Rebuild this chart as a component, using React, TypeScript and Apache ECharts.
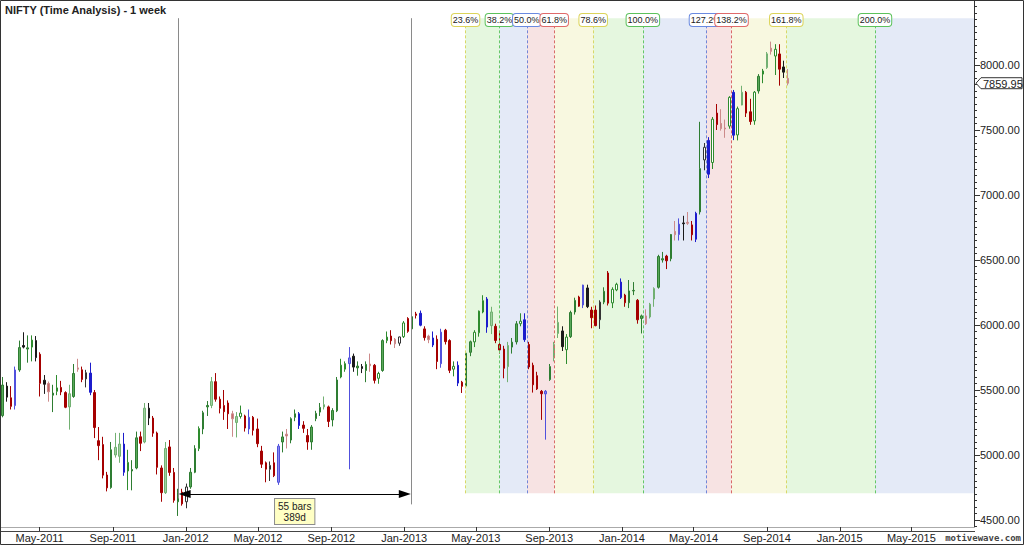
import { useEffect, useRef } from 'react';
import * as echarts from 'echarts';

const TITLE = 'NIFTY (Time Analysis) - 1 week';
const WATERMARK = 'motivewave.com';
const FIRST_BAR = '2011-02-28';
const BAR_DAYS = 7;
const DAY = 86400000;

const opens = [
  5303, 5530, 5440, 5380, 5654, 5830, 5815, 5830, 5880, 5775,
  5575, 5550, 5460, 5490, 5520, 5480, 5370, 5450, 5670, 5655,
  5585, 5630, 5480, 5110, 5080, 4846, 4750, 5000, 4990, 5084,
  4877, 4877, 4900, 5140, 5100, 5360, 5284, 5169, 4900, 4710,
  5062, 4866, 4640, 4714, 4640, 4754, 4867, 5049, 5200, 5370,
  5381, 5564, 5429, 5380, 5400, 5317, 5250, 5296, 5300, 5200,
  5290, 5200, 5030, 4940, 4890, 4940, 4790, 5100, 5160, 5115,
  5290, 5317, 5230, 5150, 5100, 5280, 5330, 5370, 5370, 5270,
  5340, 5600, 5660, 5703, 5760, 5670, 5680, 5650, 5700, 5690,
  5590, 5650, 5880, 5915, 5890, 5860, 5910, 6050, 5970, 6085,
  6090, 5970, 5915, 5900, 5890, 5702, 5960, 5880, 5660, 5690,
  5560, 5530, 5790, 5870, 5940, 6100, 6200, 5995, 5990, 5850,
  5815, 5680, 5830, 5870, 6010, 6040, 5850, 5690, 5610, 5490,
  5470, 5580, 5750, 5935, 5954, 5810, 5910, 6100, 6215, 6154,
  6285, 6115, 6115, 6040, 6176, 6400, 6170, 6270, 6330, 6230,
  6171, 6262, 6190, 6050, 6070, 6062, 6200, 6290, 6500, 6530,
  6510, 6720, 6696, 6785, 6790, 6770, 6660, 6870, 7270, 7420,
  7250, 7630, 7550, 7515, 7530, 7790, 7462, 7692, 7790, 7640,
  7570, 7800, 7930, 7980, 8130, 8069, 8085, 7985, 7897,
];
const highs = [
  5600, 5560, 5530, 5680, 5880, 5944, 5920, 5920, 5915, 5790,
  5615, 5565, 5540, 5615, 5570, 5490, 5540, 5700, 5740, 5680,
  5655, 5710, 5500, 5215, 5140, 4870, 5100, 5170, 5170, 5170,
  5040, 4960, 5180, 5180, 5400, 5400, 5300, 5180, 4920, 5100,
  5115, 4900, 4740, 4740, 4780, 4900, 5075, 5220, 5340, 5415,
  5600, 5630, 5450, 5500, 5420, 5340, 5330, 5380, 5310, 5350,
  5300, 5280, 5070, 4950, 4950, 5020, 5085, 5180, 5200, 5290,
  5350, 5330, 5260, 5200, 5230, 5340, 5400, 5450, 5380, 5360,
  5600, 5740, 5720, 5830, 5780, 5720, 5700, 5720, 5780, 5700,
  5640, 5890, 5950, 5960, 5900, 5910, 6030, 6060, 6080, 6101,
  6111, 5990, 5925, 5950, 5920, 5971, 5970, 5890, 5720, 5720,
  5570, 5800, 5880, 5960, 6111, 6229, 6215, 6140, 6010, 5940,
  5840, 5870, 5900, 6030, 6090, 6090, 5870, 5710, 5640, 5500,
  5500, 5700, 5870, 6142, 5990, 5930, 6110, 6210, 6225, 6310,
  6310, 6140, 6150, 6190, 6290, 6415, 6290, 6325, 6358, 6240,
  6346, 6330, 6200, 6080, 6120, 6170, 6290, 6540, 6562, 6540,
  6700, 6800, 6820, 6840, 6869, 6800, 6871, 7563, 7400, 7445,
  7600, 7700, 7660, 7580, 7760, 7808, 7680, 7840, 7800, 7740,
  7800, 7930, 7970, 8100, 8180, 8160, 8160, 8033, 7969,
];
const lows = [
  5290, 5410, 5350, 5350, 5640, 5820, 5710, 5720, 5720, 5450,
  5470, 5410, 5330, 5460, 5460, 5360, 5195, 5440, 5640, 5560,
  5520, 5460, 5130, 4960, 4820, 4720, 4740, 4980, 4940, 4840,
  4730, 4728, 4890, 5030, 5090, 5230, 5140, 4850, 4640, 4700,
  4840, 4633, 4531, 4610, 4590, 4740, 4860, 5030, 5160, 5300,
  5360, 5410, 5320, 5270, 5200, 5140, 5135, 5280, 5180, 5160,
  5150, 5060, 4900, 4790, 4800, 4830, 4770, 5020, 5050, 5090,
  5260, 5200, 5170, 5040, 5040, 5260, 5300, 5350, 5215, 5220,
  5330, 5590, 5640, 4890, 5640, 5610, 5630, 5560, 5640, 5550,
  5548, 5640, 5860, 5850, 5823, 5840, 5900, 5940, 5960, 6050,
  5990, 5880, 5860, 5830, 5660, 5671, 5850, 5630, 5605, 5530,
  5477, 5520, 5760, 5830, 5910, 6090, 5940, 5930, 5860, 5780,
  5590, 5560, 5780, 5850, 5990, 5870, 5660, 5480, 5500, 5270,
  5118, 5570, 5720, 5900, 5800, 5700, 5900, 6080, 6140, 6130,
  6130, 5975, 5990, 5970, 6160, 6150, 6130, 6260, 6200, 6140,
  6130, 6230, 6010, 5935, 6000, 6050, 6140, 6280, 6480, 6430,
  6490, 6650, 6650, 6650, 6770, 6650, 6638, 6850, 7190, 7130,
  7200, 7500, 7495, 7440, 7510, 7422, 7420, 7690, 7600, 7540,
  7540, 7780, 7860, 7970, 8080, 7923, 7841, 7900, 7843,
];
const closes = [
  5538, 5445, 5374, 5654, 5826, 5842, 5824, 5884, 5749, 5551,
  5544, 5486, 5476, 5516, 5485, 5367, 5471, 5627, 5660, 5581,
  5633, 5482, 5211, 5072, 4845, 4747, 5040, 5059, 5084, 4867,
  4943, 4888, 5132, 5090, 5360, 5284, 5168, 4905, 4710, 5050,
  4866, 4651, 4714, 4624, 4754, 4867, 5049, 5204, 5325, 5381,
  5564, 5429, 5359, 5333, 5317, 5278, 5296, 5322, 5207, 5290,
  5190, 5087, 4929, 4891, 4920, 4841, 5068, 5139, 5146, 5279,
  5317, 5227, 5205, 5100, 5215, 5320, 5366, 5387, 5258, 5342,
  5577, 5691, 5703, 5747, 5676, 5684, 5665, 5697, 5686, 5574,
  5627, 5880, 5907, 5879, 5855, 5908, 6016, 5951, 6064, 6074,
  5998, 5903, 5887, 5846, 5719, 5945, 5872, 5651, 5682, 5553,
  5528, 5783, 5871, 5944, 6107, 6187, 5984, 6100, 5881, 5808,
  5667, 5842, 5868, 6009, 6029, 5887, 5677, 5540, 5508, 5471,
  5490, 5680, 5850, 6020, 5833, 5907, 6096, 6189, 6145, 6307,
  6141, 6056, 5995, 6176, 6259, 6168, 6274, 6313, 6211, 6171,
  6262, 6266, 6040, 6070, 6010, 6160, 6280, 6527, 6510, 6494,
  6696, 6695, 6776, 6779, 6782, 6694, 6859, 7203, 7367, 7160,
  7583, 7542, 7511, 7508, 7751, 7460, 7664, 7790, 7630, 7565,
  7791, 7913, 7954, 8086, 8105, 8121, 7968, 7945, 7859.95,
];
// candle colour codes, one per bar
const candleColors = [
  'gkrBgkgGkr', 'kRgGrrPgRr', 'KbrrrrgPPb', 'GggrPkrrrP', 'rrgrKggGgg',
  'PrrrrRPGrB', 'rrrrKrBgRg', 'gbrrgggPrg', 'gGGBkgkgRr', 'GgGrRKGrgr',
  'brRbrBrrGb', 'rggGGGbPrr', 'rPggGbrrrr', 'BgPPkGggrB', 'krrKgrGGbr',
  'ggrgRPPggr', 'gRBkRrbgKb', 'GrRRGbGPrr', 'GgGPRGrkR',
].join('');

const xTickDates = [
  '2011-05-01', '2011-09-01', '2012-01-01', '2012-05-01', '2012-09-01',
  '2013-01-01', '2013-05-01', '2013-09-01', '2014-01-01', '2014-05-01',
  '2014-09-01', '2015-01-01', '2015-05-01',
];
const MONTHS = ['Jan', 'Feb', 'Mar', 'Apr', 'May', 'Jun', 'Jul', 'Aug', 'Sep', 'Oct', 'Nov', 'Dec'];
const yTickValues = [4500, 5000, 5500, 6000, 6500, 7000, 7500, 8000];
const Y_MIN = 4446;
const Y_MAX = 8500;
const Y_MINOR_STEP = 50;
const X_MIN = '2011-02-23T14:00:00Z';
const X_MAX = '2015-08-14T00:00:00Z';

const swingLow = '2011-12-20';
const swingHigh = '2013-01-12';
const fibRatios = [0.236, 0.382, 0.5, 0.618, 0.786, 1, 1.272, 1.382, 1.618, 2];
const fibLabels = ['23.6%', '38.2%', '50.0%', '61.8%', '78.6%', '100.0%', '127.2%', '138.2%', '161.8%', '200.0%'];
const fibTone = ['y', 'g', 'b', 'r', 'y', 'g', 'b', 'r', 'y', 'g'];
const bandTone = ['g', 'b', 'r', 'y', 'g', 'b', 'r', 'y', 'g', 'b'];
const BAND_TOP = 8360;
const BAND_BOTTOM = 4705;
const LINE_TOP = 8300;
const SWING_LOW_END = 4665;
const SWING_HIGH_END = 4620;
const MEASURE_LEVEL = 4700;
const measureLabel = '55 bars\n389d';

const lineColor: Record<string, string> = { y: '#d8d868', g: '#66c866', b: '#6f86d9', r: '#d96a6a' };
const labelBorder: Record<string, string> = { y: '#dcd45a', g: '#5cc25c', b: '#6a8ae0', r: '#e06a6a' };
const bandFill: Record<string, string> = { g: '#e5f7df', b: '#e4eaf7', r: '#f7e3e3', y: '#f8f8e0' };

const candleStyle: Record<string, { fill: string; border: string }> = {
  g: { fill: '#5aa85a', border: '#2e7d32' },
  G: { fill: '#ffffff', border: '#2e8b2e' },
  P: { fill: '#9fd09f', border: '#72b072' },
  r: { fill: '#a50000', border: '#a50000' },
  R: { fill: '#c46a6a', border: '#cc8a8a' },
  b: { fill: '#1c1ccc', border: '#1c1ccc' },
  B: { fill: '#8c8cec', border: '#5050dd' },
  k: { fill: '#1a1a1a', border: '#1a1a1a' },
  K: { fill: '#ffffff', border: '#333333' },
};

export default function App() {
  const ref = useRef<HTMLDivElement>(null);

  useEffect(() => {
    document.body.style.margin = '0';
    if (!ref.current) return;
    const chart = echarts.init(ref.current, undefined, { renderer: 'svg' });

    const t0 = Date.parse(FIRST_BAR);
    const candleData = closes.map((c, i) => {
      const st = candleStyle[candleColors[i]] || candleStyle.g;
      return {
        value: [t0 + i * BAR_DAYS * DAY, opens[i], c, lows[i], highs[i]],
        itemStyle: { color: st.fill, color0: st.fill, borderColor: st.border, borderColor0: st.border },
      };
    });

    const xMin = Date.parse(X_MIN);
    const xMax = Date.parse(X_MAX);
    const xTicks = xTickDates.map((d) => Date.parse(d));
    const minorTicks: number[] = [];
    for (let v = Math.ceil(Y_MIN / Y_MINOR_STEP) * Y_MINOR_STEP; v <= Y_MAX; v += Y_MINOR_STEP) minorTicks.push(v);

    const tA = Date.parse(swingLow);
    const tB = Date.parse(swingHigh);
    const span = tB - tA;
    const fibTimes = fibRatios.map((r) => tB + r * span);

    const bands = fibTimes.map((t, i) => [
      { xAxis: t, yAxis: BAND_TOP, itemStyle: { color: bandFill[bandTone[i]] } },
      { xAxis: i + 1 < fibTimes.length ? fibTimes[i + 1] : xMax, yAxis: BAND_BOTTOM },
    ]);

    const fibLines = fibTimes.map((t, i) => [
      {
        coord: [t, BAND_BOTTOM],
        lineStyle: { color: lineColor[fibTone[i]], type: [3, 2], width: 1 },
        label: {
          show: true,
          position: 'end',
          distance: 0,
          formatter: fibLabels[i],
          color: '#222',
          fontSize: 9,
          fontFamily: 'Liberation Sans, Arial, sans-serif',
          backgroundColor: '#ffffff',
          borderColor: labelBorder[fibTone[i]],
          borderWidth: 1,
          borderRadius: 3,
          padding: [2, 1, 1, 1],
        },
      },
      { coord: [t, LINE_TOP] },
    ]);

    const swingLines = [
      [{ coord: [tA, BAND_TOP], lineStyle: { color: '#8a8a8a', width: 1, type: 'solid' } }, { coord: [tA, SWING_LOW_END] }],
      [{ coord: [tB, BAND_TOP], lineStyle: { color: '#8a8a8a', width: 1, type: 'solid' } }, { coord: [tB, SWING_HIGH_END] }],
    ];

    const inset = 10 * DAY;
    const measureLine = [
      [
        {
          coord: [tA + inset, MEASURE_LEVEL],
          symbol: 'triangle',
          symbolSize: [8, 12],
          lineStyle: { color: '#000', width: 1, type: 'solid' },
          label: {
            show: true,
            position: 'insideMiddleBottom',
            distance: 5,
            formatter: measureLabel,
            color: '#222',
            fontSize: 10,
            lineHeight: 11,
            fontFamily: 'Liberation Sans, Arial, sans-serif',
            backgroundColor: '#ffffc4',
            borderColor: '#8c8c8c',
            borderWidth: 1,
            padding: [2, 3, 1, 3],
            align: 'center',
          },
        },
        { coord: [tB - inset, MEASURE_LEVEL], symbol: 'triangle', symbolSize: [8, 12] },
      ],
    ];

    const fmtDate = (v: number) => {
      const d = new Date(v);
      return MONTHS[d.getUTCMonth()] + '-' + d.getUTCFullYear();
    };

    const font = 'Liberation Sans, Arial, sans-serif';

    chart.setOption({
      animation: false,
      backgroundColor: '#ffffff',
      title: {
        text: TITLE,
        left: 5,
        top: 4,
        padding: 0,
        textStyle: { fontSize: 11, fontWeight: 'bold', color: '#222', fontFamily: font },
      },
      grid: { left: 0, right: 50, top: 0, bottom: 18, containLabel: false, outerBoundsMode: 'none' },
      xAxis: {
        type: 'value',
        min: xMin,
        max: xMax,
        scale: true,
        axisLine: { show: true, lineStyle: { color: '#aaaaaa', width: 1 } },
        axisTick: { show: true, length: 4, customValues: xTicks, lineStyle: { color: '#333' } },
        axisLabel: {
          customValues: xTicks,
          formatter: fmtDate,
          margin: 5,
          fontSize: 11,
          color: '#222',
          fontFamily: font,
          showMinLabel: true,
          showMaxLabel: true,
          hideOverlap: false,
        },
        splitLine: { show: false },
      },
      yAxis: [
        {
          type: 'value',
          position: 'right',
          min: Y_MIN,
          max: Y_MAX,
          scale: true,
          axisLine: { show: true, lineStyle: { color: '#333' } },
          axisTick: { show: true, length: 6, customValues: yTickValues, lineStyle: { color: '#333' } },
          axisLabel: {
            customValues: yTickValues,
            formatter: (v: number) => v.toFixed(2),
            margin: 6,
            fontSize: 11,
            color: '#222',
            fontFamily: font,
            showMinLabel: true,
            showMaxLabel: true,
          },
          splitLine: { show: false },
        },
        {
          type: 'value',
          position: 'right',
          min: Y_MIN,
          max: Y_MAX,
          scale: true,
          axisLine: { show: false },
          axisTick: { show: true, length: 3, customValues: minorTicks, lineStyle: { color: '#333' } },
          axisLabel: { show: false },
          splitLine: { show: false },
        },
      ],
      series: [
        {
          type: 'line',
          data: [],
          z: 1,
          silent: true,
          markArea: { silent: true, data: bands },
        },
        {
          type: 'line',
          data: [],
          z: 1,
          silent: true,
          markLine: {
            silent: true,
            symbol: ['none', 'none'],
            label: { show: false },
            data: [...swingLines, ...fibLines],
          },
        },
        {
          type: 'candlestick',
          name: 'NIFTY',
          z: 3,
          barWidth: 2,
          encode: { x: 0, y: [1, 2, 3, 4] },
          itemStyle: { borderWidth: 1 },
          data: candleData,
        },
        {
          type: 'line',
          data: [],
          z: 5,
          silent: true,
          markLine: {
            silent: true,
            symbol: ['none', 'none'],
            label: { show: false },
            data: measureLine,
          },
        },
      ],
      graphic: [
        {
          id: 'axisBase',
          type: 'line',
          silent: true,
          z: 50,
          shape: { x1: 0, y1: 531.5, x2: 975, y2: 531.5 },
          style: { stroke: '#444', lineWidth: 1 },
        },
        {
          id: 'frame',
          type: 'rect',
          silent: true,
          z: 100,
          shape: { x: 0.5, y: 0.5, width: 1023, height: 544 },
          style: { fill: 'none', stroke: '#333', lineWidth: 1 },
        },
        {
          id: 'wm',
          type: 'text',
          silent: true,
          z: 100,
          x: 1021,
          y: 538,
          style: {
            text: WATERMARK,
            fill: '#444',
            font: 'bold 9px "DejaVu Sans Mono", monospace',
            align: 'right',
            verticalAlign: 'middle',
            textAlign: 'right',
            textVerticalAlign: 'middle',
          },
        },
      ],
    });

    const lastClose = closes[closes.length - 1];
    const py = chart.convertToPixel({ yAxisIndex: 0 }, lastClose) as number;
    if (typeof py === 'number' && isFinite(py)) {
      chart.setOption({
        graphic: [
          {
            id: 'priceBox',
            type: 'polygon',
            silent: true,
            z: 110,
            shape: { points: [[976, py], [981, py - 5.5], [1022, py - 5.5], [1022, py + 5.5], [981, py + 5.5]] },
            style: { fill: '#ffffff', stroke: '#333', lineWidth: 1 },
          },
          {
            id: 'priceText',
            type: 'text',
            silent: true,
            z: 111,
            x: 983,
            y: py + 0.5,
            style: {
              text: lastClose.toFixed(2),
              fill: '#222',
              font: '11px "Liberation Sans", Arial, sans-serif',
              verticalAlign: 'middle',
              textVerticalAlign: 'middle',
            },
          },
        ],
      });
    }

    return () => chart.dispose();
  }, []);

  return <div ref={ref} style={{ position: 'fixed', left: 0, top: 0, width: 1024, height: 545 }} />;
}
